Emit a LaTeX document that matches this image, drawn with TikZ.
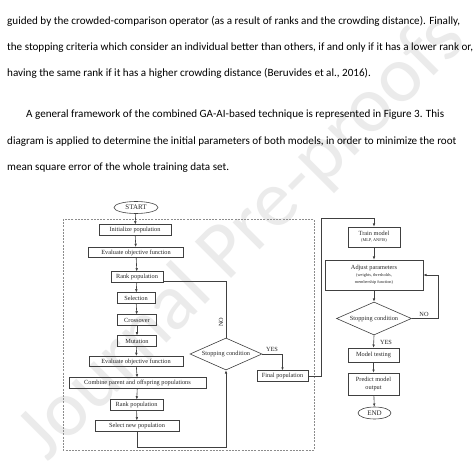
\documentclass[tikz,border=0pt]{standalone}
\usepackage{fontspec}
\setmainfont{Liberation Serif}
\newfontfamily\parafont{Carlito}
\newcommand\subtxt{\fontsize{4.3}{5}\selectfont}
\usetikzlibrary{shapes.geometric,arrows.meta,calc}
\begin{document}
\begin{tikzpicture}[x=1pt,y=-1pt,
  para/.style={anchor=base west,inner sep=0pt,font=\parafont\fontsize{11.1}{13}\selectfont,text=black},
  box/.style={draw=black!75,line width=0.6pt,inner sep=0pt,minimum height=10.5pt,font=\fontsize{6.3}{7}\selectfont,text=black!85,align=center},
  term/.style={ellipse,draw=black!75,line width=0.6pt,inner sep=0pt,font=\fontsize{7}{8}\selectfont,text=black!85},
  dec/.style={diamond,draw=black!75,line width=0.6pt,inner sep=0pt,font=\fontsize{6.3}{7}\selectfont,text=black!85},
  lbl/.style={inner sep=0pt,font=\fontsize{6.3}{7}\selectfont,text=black!85},
  conn/.style={draw=black!75,line width=0.6pt},
  arr/.style={conn,-{Latex[length=3.2pt,width=2.6pt]}}
]
\useasboundingbox (0,0) rectangle (474,470);
\fill[white] (0,0) rectangle (474,470);

% watermark
\node[rotate=45,text=black!8,inner sep=0pt,font=\parafont\fontsize{80}{80}\selectfont] (wm) at (243,237) {Journal Pre-proofs};

% paragraph text
\node[para] (p1) at (7,25) {guided by the crowded-comparison operator (as a result of ranks and the crowding distance). Finally,};
\node[para] (p2) at (7,51) {the stopping criteria which consider an individual better than others, if and only if it has a lower rank or,};
\node[para] (p3) at (7,77) {having the same rank if it has a higher crowding distance (Beruvides et al., 2016).};
\node[para] (p4) at (26,118) {A general framework of the combined GA-AI-based technique is represented in Figure 3. This};
\node[para] (p5) at (7,145) {diagram is applied to determine the initial parameters of both models, in order to minimize the root};
\node[para] (p6) at (7,171) {mean square error of the whole training data set.};

% dashed frame
\draw[black!45,line width=0.6pt,dash pattern=on 2pt off 1.2pt] (63,219) rectangle (314,450);

% left column
\node[term,minimum width=44pt,minimum height=12pt] (start) at (136,207.5) {START};
\node[box,minimum width=72pt] (init) at (135,230) {Initialize population};
\node[box,minimum width=95pt] (eval1) at (136,252.5) {Evaluate objective function};
\node[box,minimum width=52pt] (rank1) at (137,277) {Rank population};
\node[box,minimum width=38pt] (sel) at (136,298) {Selection};
\node[box,minimum width=39pt] (cross) at (137,320) {Crossover};
\node[box,minimum width=39pt] (mut) at (137,341) {Mutation};
\node[box,minimum width=94pt] (eval2) at (136,361.5) {Evaluate objective function};
\node[box,minimum width=137pt] (comb) at (137.5,383) {Combine parent and offspring populations};
\node[box,minimum width=53pt] (rank2) at (136.5,405) {Rank population};
\node[box,minimum width=84pt] (selnew) at (137,426) {Select new population};

\node[dec,minimum width=72pt,minimum height=32pt,aspect=2.25] (sc1) at (226,354) {Stopping condition};
\node[box,minimum width=51pt] (final) at (282.5,376) {Final population};

% right column
\node[box,minimum width=52pt,minimum height=20pt] (train) at (374,237) {Train model\\[-0.5pt]{\subtxt (MLP, ANFIS)}};
\node[box,minimum width=98pt,minimum height=30pt] (adjust) at (374,275) {Adjust parameters\\[0pt]{\subtxt (weights, thresholds,}\\[0.5pt]{\subtxt membership function)}};
\node[dec,minimum width=75pt,minimum height=33pt,aspect=2.27] (sc2) at (374,318.5) {Stopping condition};
\node[box,minimum width=51pt,minimum height=14pt] (test) at (373.5,355) {Model testing};
\node[box,minimum width=51pt,minimum height=22pt] (pred) at (373.5,384) {Predict model\\[1pt]output};
\node[term,minimum width=33pt,minimum height=12pt] (end) at (374.5,413) {END};

% connectors left
\draw[arr] (start) -- (init);
\draw[arr] (init) -- (eval1);
\draw[arr] (eval1) -- (rank1);
\draw[arr] (rank1) -- (sel);
\draw[arr] (sel) -- (cross);
\draw[arr] (cross) -- (mut);
\draw[arr] (mut) -- (eval2);
\draw[arr] (eval2) -- (comb);
\draw[arr] (comb) -- (rank2);
\draw[arr] (rank2) -- (selnew);
\draw[arr] (selnew.south) -- ++(0,15.5) -| (sc1.south);
\draw[conn] (sc1.north) |- ($(rank1.east)+(0,4)$);
\node[lbl,rotate=90] (no1) at (221,322) {NO};
\draw[arr] (sc1.east) -| (final.north);
\node[lbl] (yes1) at (272,349) {YES};

% connectors right
\coordinate (c1) at (321,218);
\draw[arr] (final.east) -| (c1) -| (train.north);
\draw[arr] (train) -- (adjust);
\draw[arr] (adjust) -- (sc2);
\draw[arr] (sc2.east) -- ++(26,0) |- (adjust.east);
\node[lbl] (no2) at (424,314) {NO};
\draw[arr] (sc2.south) -- (test.north);
\node[lbl] (yes2) at (386,342) {YES};
\draw[arr] (test) -- (pred);
\draw[arr] (pred) -- (end);
\end{tikzpicture}
\end{document}
